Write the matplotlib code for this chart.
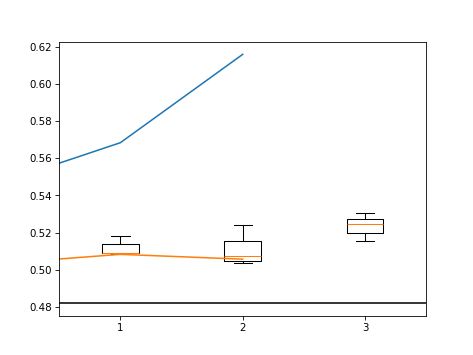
import matplotlib
matplotlib.use("Agg")
import matplotlib.pyplot as plt

# box summaries, positions 1..3
positions = [1, 2, 3]
whislo = [0.5086, 0.5034, 0.5153]
q1 = [0.5090, 0.5049, 0.5198]
med = [0.5092, 0.5072, 0.5245]
q3 = [0.5139, 0.5157, 0.5274]
whishi = [0.5184, 0.5239, 0.5304]

# line series (first point sits left of the visible range)
line_x = [0, 1, 2]
blue_y = [0.5463, 0.5683, 0.6158]
orange_y = [0.5033, 0.5083, 0.5057]

baseline = 0.482

fig, ax = plt.subplots(figsize=(6.4, 4.8), dpi=74)

stats = []
for i in range(len(positions)):
    stats.append({'whislo': whislo[i], 'q1': q1[i], 'med': med[i],
                  'q3': q3[i], 'whishi': whishi[i], 'fliers': []})
ax.bxp(stats, positions=positions, widths=0.3)

ax.plot(line_x, blue_y, color='#1f77b4')
ax.plot(line_x, orange_y, color='#ff7f0e')
ax.axhline(baseline, color='black')

ax.set_xlim(0.5, 3.5)
ax.set_ylim(0.4752, 0.6222)
ax.set_xticks(positions)
ax.set_xticklabels([str(p) for p in positions])

fig.savefig('out.png', dpi=74)
